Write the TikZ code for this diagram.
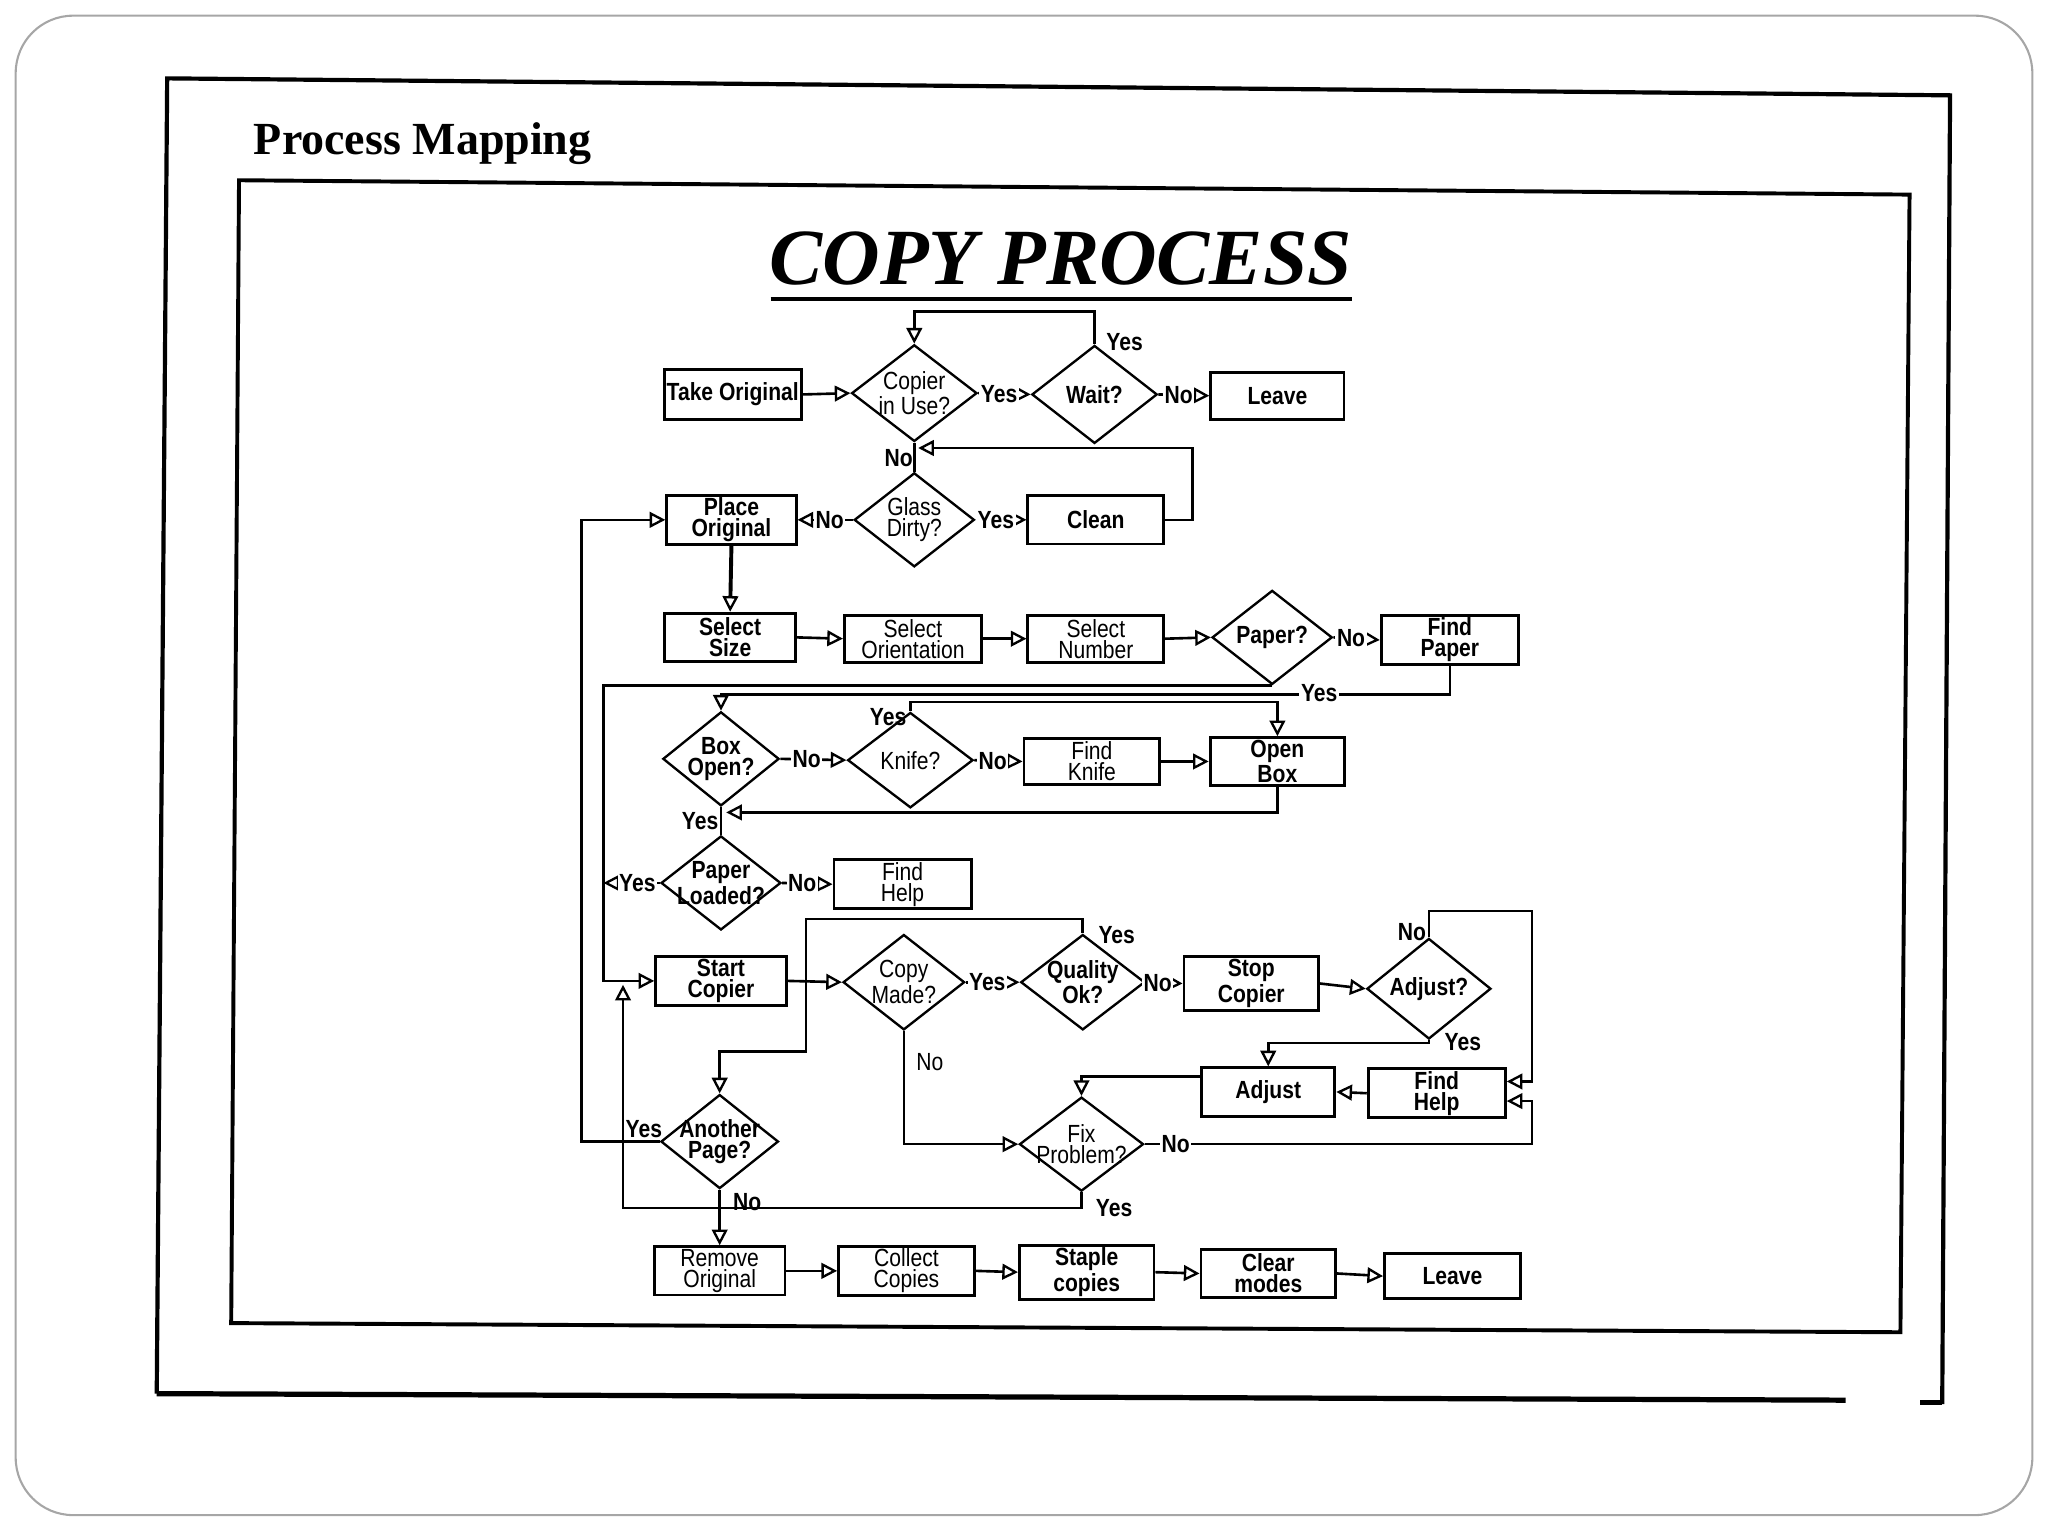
\documentclass[tikz,border=0pt]{standalone}
\usepackage{fontspec}
\setmainfont{Liberation Serif}
\newfontfamily\nar[FakeStretch=0.85]{Liberation Sans}
\usetikzlibrary{shapes.geometric,arrows.meta}
\begin{document}
\begin{tikzpicture}[x=0.5pt,y=-0.5pt,
  box/.style={draw,line width=1.1pt,inner sep=1pt,align=center,font=\nar\fontsize{9.5}{8}\selectfont,minimum width=51pt,minimum height=18.5pt},
  bbox/.style={box,font=\nar\bfseries\fontsize{9.5}{8}\selectfont},
  dia/.style={diamond,draw,line width=0.9pt,aspect=1.3,inner sep=-2pt,align=center,font=\nar\fontsize{9.5}{8}\selectfont,minimum width=47pt,minimum height=36.5pt},
  bdia/.style={dia,font=\nar\bfseries\fontsize{9.5}{8}\selectfont},
  con/.style={line width=1pt},
  arr/.style={con,-{Triangle[open,length=6pt,width=6pt,line width=0.9pt]}},
  lbl/.style={font=\nar\bfseries\fontsize{9.5}{9.5}\selectfont,inner sep=0.6pt,fill=white},
  lbln/.style={font=\nar\bfseries\fontsize{9.5}{9.5}\selectfont,inner sep=0.6pt},
  lblr/.style={font=\nar\fontsize{9.5}{9.5}\selectfont,inner sep=0.6pt},
]
\useasboundingbox (0,0) rectangle (1568,1176);
% frames
\draw[gray!70,line width=0.8pt,rounded corners=22pt] (12,12) rectangle (1556,1160);
\draw[line width=1.6pt] (120,1067)--(128,60)--(1493,73)--(1487,1075);
\draw[line width=2pt] (120,1067)--(1413,1072);
\draw[line width=2pt] (1470,1074)--(1487,1074);
\draw[line width=1.5pt] (183,138)--(1462,149)--(1455,1020)--(177,1013)--cycle;
% titles
\node[font=\bfseries\fontsize{17.6}{17.6}\selectfont,anchor=west,inner sep=0pt] (pm) at (194,110) {Process Mapping};
\node[font=\bfseries\itshape\fontsize{30.5}{30.5}\selectfont,inner sep=0pt] (title) at (812,198) {COPY PROCESS};
\draw[line width=1.6pt] (590,229) -- (1035,229);

% row 1
\node[bbox,minimum width=50pt,minimum height=19pt] (takeorig) at (561,302) {Take Original};
\node[dia,minimum width=48pt,minimum height=37pt] (copier) at (700,301) {Copier\\in Use?};
\node[bdia,minimum width=48pt,minimum height=37.5pt] (wait) at (838,302) {Wait?};
\node[bbox,minimum height=18pt] (leave1) at (978,303) {Leave};
% row 2
\node[dia,minimum width=46pt,minimum height=36pt] (glass) at (700,398) {Glass\\Dirty?};
\node[bbox,minimum width=49.5pt] (place) at (560,398) {Place\\Original};
\node[bbox,minimum width=52pt] (clean) at (839,398) {Clean};
% row 3
\node[bbox,minimum width=50pt] (selsize) at (559,488) {Select\\Size};
\node[box,minimum width=52.5pt,minimum height=18pt] (selorient) at (699,489) {Select\\Orientation};
\node[box,minimum width=52pt,minimum height=18pt] (selnum) at (839,489) {Select\\Number};
\node[bdia,minimum width=46pt,minimum height=36pt] (paper) at (974,488) {Paper?};
\node[bbox,minimum width=52.5pt] (findpaper) at (1110,490) {Find\\Paper};
% row 4
\node[bdia,minimum width=44.5pt,minimum height=36pt] (boxopen) at (552,581) {Box\\Open?};
\node[dia,minimum width=48pt,minimum height=36.5pt] (knife) at (697,582) {Knife?};
\node[box,minimum width=52pt,minimum height=17.5pt] (findknife) at (836,583) {Find\\Knife};
\node[bbox,minimum width=51.5pt,minimum height=18pt] (openbox) at (978,583) {Open\\Box};
% row 5
\node[bdia,minimum width=44.5pt,minimum height=36pt] (paperloaded) at (552,676) {Paper\\Loaded?};
\node[box,minimum width=52.5pt,minimum height=17.5pt] (findhelp1) at (691,677) {Find\\Help};
% row 6
\node[bbox,minimum width=50pt] (startcopier) at (552,751) {Start\\Copier};
\node[dia,minimum width=46.5pt,minimum height=36.5pt] (copymade) at (692,752) {Copy\\Made?};
\node[bdia,minimum width=47.5pt,minimum height=36.5pt] (quality) at (829,752) {Quality\\Ok?};
\node[bbox,minimum width=51.5pt] (stopcopier) at (958,753) {Stop\\Copier};
\node[bdia,minimum width=47.5pt,minimum height=38.5pt] (adjustq) at (1094,757) {Adjust?};
% row 7
\node[bbox] (adjustbox) at (971,836) {Adjust};
\node[bbox,minimum width=52.5pt,minimum height=18pt] (findhelp2) at (1100,837) {Find\\Help};
\node[dia,minimum width=47.5pt,minimum height=36pt] (fix) at (828,876) {Fix\\Problem?};
\node[bdia,minimum width=45pt,minimum height=36pt] (another) at (551,874) {Another\\Page?};
% row 8
\node[box,minimum width=50pt] (remove) at (551,973) {Remove\\Original};
\node[box,minimum width=52pt] (collect) at (694,973) {Collect\\Copies};
\node[bbox,minimum width=51.5pt] (staple) at (832,974) {Staple\\copies};
\node[bbox,minimum width=51.5pt] (clear) at (971,975) {Clear\\modes};
\node[bbox,minimum width=52pt,minimum height=17pt] (leave2) at (1112,977) {Leave};

% helper coordinates
\coordinate (j1) at (703,343);
\coordinate (j2) at (556,622);
\coordinate (vl) at (462,751);
\coordinate (vl2) at (477,754);
\coordinate (k1) at (1173,828);
\coordinate (k2) at (1173,843);

% connectors row 1-2
\draw[arr] (takeorig.east) -- (copier.west);
\draw[arr] (copier.east) -- node[lbl,pos=0.4]{Yes} (wait.west);
\draw[arr] (wait.east) -- node[lbl,pos=0.4]{No} (leave1.west);
\draw[arr] (wait.north) -- ++(0,-25) -| (copier.north);
\node[lbln] (ywait) at (861,262) {Yes};
\draw[con] (copier.south) -- (glass.north);
\node[lbln] (ncop) at (688,351) {No};
\draw[arr] (clean.east) -- ++(21,0) |- (j1);
\draw[arr] (glass.west) -- node[lbl,pos=0.42]{No} (place.east);
\draw[arr] (glass.east) -- node[lbl,pos=0.4]{Yes} (clean.west);
\draw[arr,line width=1.5pt] (place.south) -- (selsize.north);
% row 3
\draw[arr] (selsize.east) -- (selorient.west);
\draw[arr] (selorient.east) -- (selnum.west);
\draw[arr] (selnum.east) -- (paper.west);
\draw[arr] (paper.east) -- node[lbl,pos=0.38]{No} (findpaper.west);
\draw[arr] (paper.south) -| (vl) -- (startcopier.west);
\draw[arr] (findpaper.south) -- ++(0,22) -| (boxopen.north);
\node[lbl] (ypap) at (1010,531) {Yes};
% row 4
\draw[arr] (boxopen.east) -- node[lbl,pos=0.4]{No} (knife.west);
\draw[arr] (knife.east) -- node[lbl,pos=0.38]{No} (findknife.west);
\draw[arr] (findknife.east) -- (openbox.west);
\draw[arr] (knife.north) -- ++(0,-7) -| (openbox.north);
\node[lbln] (yknife) at (680,549) {Yes};
\draw[arr] (openbox.south) |- (j2);
\draw[con] (boxopen.south) -- (paperloaded.north);
\node[lbln] (ybox) at (536,629) {Yes};
% row 5
\draw[arr] (paperloaded.east) -- node[lbl,pos=0.4]{No} (findhelp1.west);
\draw[arr] (paperloaded.west) -- node[lbl,pos=0.4]{Yes} (paperloaded.west -| vl);
% row 6
\draw[arr] (startcopier.east) -- (copymade.west);
\draw[arr] (copymade.east) -- node[lbl,pos=0.4]{Yes} (quality.west);
\draw[arr] (quality.east) -- node[lbl,pos=0.32]{No} (stopcopier.west);
\draw[arr] (stopcopier.east) -- (adjustq.west);
\draw[arr] (quality.north) -- ++(0,-11) -| (617,805) -| (another.north);
\node[lbln] (yqual) at (855,716) {Yes};
\draw[arr] (adjustq.north) -- ++(0,-20) -| (k1) -- (k1 -| findhelp2.east);
\node[lbln] (nadj) at (1081,714) {No};
\draw[arr] (adjustq.south) -- ++(0,2) -| (adjustbox.north);
\node[lbln] (yadj) at (1120,798) {Yes};
\draw[arr] (copymade.south) |- (fix.west);
\node[lblr] (ncopy) at (712,813) {No};
% row 7
\draw[arr] (findhelp2.west) -- (adjustbox.east);
\draw[arr] ([yshift=6pt]adjustbox.west) -| (fix.north);
\draw[arr] (fix.east) -- node[lbl,pos=0.08]{No} (fix.east -| k2) -- (k2) -- (k2 -| findhelp2.east);
\draw[arr] (fix.south) -- ++(0,12) -| (vl2);
\node[lbln] (yfix) at (853,925) {Yes};
\draw[arr] (another.west) -- ++(-60,0) |- (place.west);
\node[lbln,anchor=south] (yanot) at (493,873) {Yes};
\draw[arr] (another.south) -- (remove.north);
\node[lbln] (nanot) at (572,920) {No};
% row 8
\draw[arr] (remove.east) -- (collect.west);
\draw[arr] (collect.east) -- (staple.west);
\draw[arr] (staple.east) -- (clear.west);
\draw[arr] (clear.east) -- (leave2.west);
\end{tikzpicture}
\end{document}
